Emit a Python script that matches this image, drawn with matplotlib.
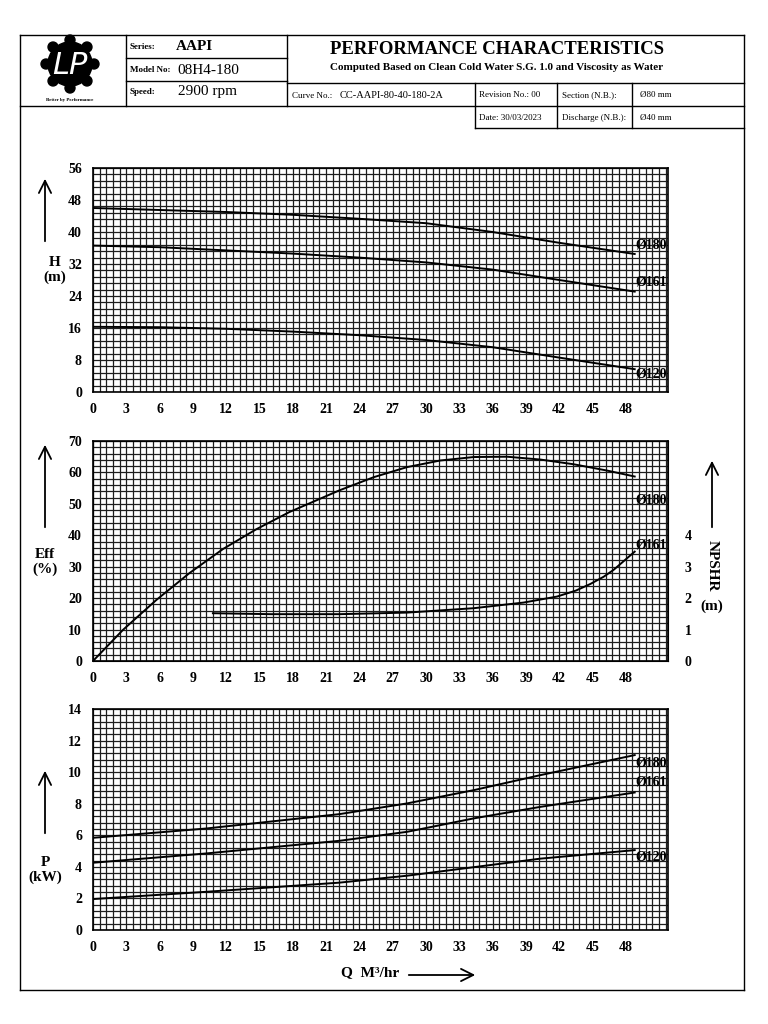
import numpy as np
import matplotlib
matplotlib.use("Agg")
import matplotlib.pyplot as plt
from matplotlib.ticker import MultipleLocator
from matplotlib.patches import Circle

plt.rcParams['font.family'] = ['Liberation Serif', 'DejaVu Serif']
plt.rcParams['font.weight'] = 'bold'

# ---- data ----
x_ticks = [0, 3, 6, 9, 12, 15, 18, 21, 24, 27, 30, 33, 36, 39, 42, 45, 48]

# head (m)
q_head = [0, 6, 12, 18, 24, 30, 36, 42, 48.8]
h_180 = [46.0, 45.5, 45.0, 44.3, 43.3, 42.2, 40.0, 37.3, 34.5]
h_161 = [36.6, 36.2, 35.4, 34.6, 33.6, 32.4, 30.6, 28.0, 25.1]
h_120 = [16.3, 16.2, 15.8, 15.1, 14.2, 13.0, 11.2, 8.6, 5.7]

# efficiency (%) and NPSHR (m)
q_eff = [0, 2.7, 5.7, 8.7, 11.7, 14.7, 17.7, 22.2, 25.3, 28.3, 31.3, 34.3,
         37.3, 40.3, 43.3, 46.3, 48.8]
eff = [0, 9.9, 19.4, 28.0, 35.6, 41.9, 47.4, 54.3, 58.5, 61.7, 63.8, 64.9,
       65.0, 64.1, 62.6, 60.6, 58.7]
q_npsh = [10.8, 16, 22.2, 28.3, 34.3, 38.8, 41.8, 43.5, 44.8, 46.0, 46.9, 48.8]
npsh = [1.52, 1.49, 1.49, 1.54, 1.68, 1.86, 2.05, 2.24, 2.45, 2.68, 2.9, 3.48]

# power (kW)
q_pow = [0, 10.2, 22.2, 28.3, 34.3, 40.3, 48.8]
p_180 = [5.84, 6.43, 7.34, 8.02, 8.86, 9.81, 11.08]
p_161 = [4.26, 4.85, 5.65, 6.22, 7.07, 7.80, 8.71]
p_120 = [1.96, 2.42, 3.00, 3.44, 3.98, 4.52, 5.06]

W, H = 768, 1024
fig = plt.figure(figsize=(W / 100, H / 100), dpi=100)

# page overlay in pixel coords
pg = fig.add_axes([0, 0, 1, 1])
pg.set_xlim(0, W)
pg.set_ylim(H, 0)
pg.axis('off')

def hline(y, x0, x1):
    pg.plot([x0, x1], [y, y], color='black', lw=1)

def vline(x, y0, y1):
    pg.plot([x, x], [y0, y1], color='black', lw=1)

# frame + header table
hline(35, 20, 744)
vline(20, 35, 990)
vline(744, 35, 990)
hline(990, 20, 744)
vline(126, 35, 106)
vline(287, 35, 106)
hline(58, 126, 287)
hline(81, 126, 287)
hline(83, 287, 744)
hline(106, 20, 744)
hline(128, 475, 744)
for xv in [475, 557, 632]:
    vline(xv, 83, 128)

# logo
pg.add_patch(Circle((70, 64), 22, color='black'))
for ang in np.linspace(0, 2 * np.pi, 9)[:-1]:
    cx, cy = 70 + 24 * np.cos(ang), 64 + 24 * np.sin(ang)
    pg.add_patch(Circle((cx, cy), 5, color='black'))
pg.text(70, 66, 'LP', color='white', fontsize=22, style='italic',
        ha='center', va='center', family='DejaVu Sans', weight='normal')
pg.text(70, 100, 'Better by Performance', fontsize=3.5, ha='center', va='center')

small = 6.5
pg.text(130, 47, 'Series:', fontsize=small, va='center')
pg.text(176, 46, 'AAPI', fontsize=11, va='center')
pg.text(130, 70, 'Model No:', fontsize=small, va='center')
pg.text(177, 70, '08H4-180', fontsize=11, va='center', weight='normal')
pg.text(130, 92, 'Speed:', fontsize=small, va='center')
pg.text(178, 91, '2900 rpm', fontsize=11, va='center', weight='normal')

pg.text(497, 50, 'PERFORMANCE CHARACTERISTICS', fontsize=13.5, ha='center', va='center')
pg.text(497, 68, 'Computed Based on Clean Cold Water S.G. 1.0 and Viscosity as Water',
        fontsize=8, ha='center', va='center')
pg.text(292, 96, 'Curve No.:', fontsize=small, va='center', weight='normal')
pg.text(340, 96, 'CC-AAPI-80-40-180-2A', fontsize=7.5, va='center', weight='normal')
pg.text(479, 95, 'Revision No.: 00', fontsize=small, va='center', weight='normal')
pg.text(562, 95, 'Section (N.B.):', fontsize=small, va='center', weight='normal')
pg.text(640, 95, 'Ø80 mm', fontsize=small, va='center', weight='normal')
pg.text(479, 118, 'Date: 30/03/2023', fontsize=small, va='center', weight='normal')
pg.text(562, 118, 'Discharge (N.B.):', fontsize=small, va='center', weight='normal')
pg.text(640, 118, 'Ø40 mm', fontsize=small, va='center', weight='normal')

def make_axes(top, bottom, ymax, ymajor, yminor):
    ax = fig.add_axes([93 / W, 1 - bottom / H, 575 / W, (bottom - top) / H])
    ax.set_xlim(0, 51.8)
    ax.set_ylim(0, ymax)
    ax.set_xticks(x_ticks)
    ax.xaxis.set_minor_locator(MultipleLocator(0.6))
    ax.yaxis.set_major_locator(MultipleLocator(ymajor))
    ax.yaxis.set_minor_locator(MultipleLocator(yminor))
    ax.grid(True, which='both', color='#1e1e1e', lw=0.9)
    ax.set_axisbelow(True)
    ax.tick_params(which='both', length=0, labelsize=10, pad=8)
    for lab in ax.get_xticklabels() + ax.get_yticklabels():
        lab.set_fontweight('bold')
    for s in ax.spines.values():
        s.set_linewidth(1.2)
    return ax

lw = 1.4
# head
ax1 = make_axes(168, 392, 56, 8, 1.6)
ax1.plot(q_head, h_180, color='black', lw=lw)
ax1.plot(q_head, h_161, color='black', lw=lw)
ax1.plot(q_head, h_120, color='black', lw=lw)
ax1.text(48.9, 36.7, 'Ø180', fontsize=10, va='center')
ax1.text(48.9, 27.5, 'Ø161', fontsize=10, va='center')
ax1.text(48.9, 4.5, 'Ø120', fontsize=10, va='center')

# efficiency + npshr
ax2 = make_axes(441, 661, 70, 10, 2)
ax2.plot(q_eff, eff, color='black', lw=lw)
ax2.text(48.9, 51.3, 'Ø180', fontsize=10, va='center')
ax2.text(48.9, 37.0, 'Ø161', fontsize=10, va='center')
ax2b = ax2.twinx()
ax2b.set_ylim(0, 7)
ax2b.set_yticks([0, 1, 2, 3, 4])
ax2b.tick_params(length=0, labelsize=10, pad=12)
for lab in ax2b.get_yticklabels():
    lab.set_fontweight('bold')
ax2b.plot(q_npsh, npsh, color='black', lw=lw)

# power
ax3 = make_axes(709, 930, 14, 2, 0.4)
ax3.plot(q_pow, p_180, color='black', lw=lw)
ax3.plot(q_pow, p_161, color='black', lw=lw)
ax3.plot(q_pow, p_120, color='black', lw=lw)
ax3.text(48.9, 10.6, 'Ø180', fontsize=10, va='center')
ax3.text(48.9, 9.4, 'Ø161', fontsize=10, va='center')
ax3.text(48.9, 4.6, 'Ø120', fontsize=10, va='center')

# axis captions and arrows
arr = dict(arrowstyle='->', color='black', lw=1.3, mutation_scale=22)
pg.annotate('', xy=(45, 176), xytext=(45, 244), arrowprops=arr)
pg.text(55, 270, 'H\n(m)', fontsize=11, ha='center', va='center', linespacing=1.1)
pg.annotate('', xy=(45, 442), xytext=(45, 530), arrowprops=arr)
pg.text(45, 562, 'Eff\n(%)', fontsize=11, ha='center', va='center', linespacing=1.1)
pg.annotate('', xy=(45, 768), xytext=(45, 836), arrowprops=arr)
pg.text(45, 870, 'P\n(kW)', fontsize=11, ha='center', va='center', linespacing=1.1)
pg.annotate('', xy=(712, 458), xytext=(712, 530), arrowprops=arr)
pg.text(712, 566, 'NPSHR', fontsize=11, rotation=270, ha='center', va='center')
pg.text(712, 606, '(m)', fontsize=11, ha='center', va='center')
pg.text(370, 973, 'Q  M³/hr', fontsize=11, ha='center', va='center')
pg.annotate('', xy=(478, 975), xytext=(406, 975), arrowprops=arr)

fig.savefig('out.png', dpi=100)
